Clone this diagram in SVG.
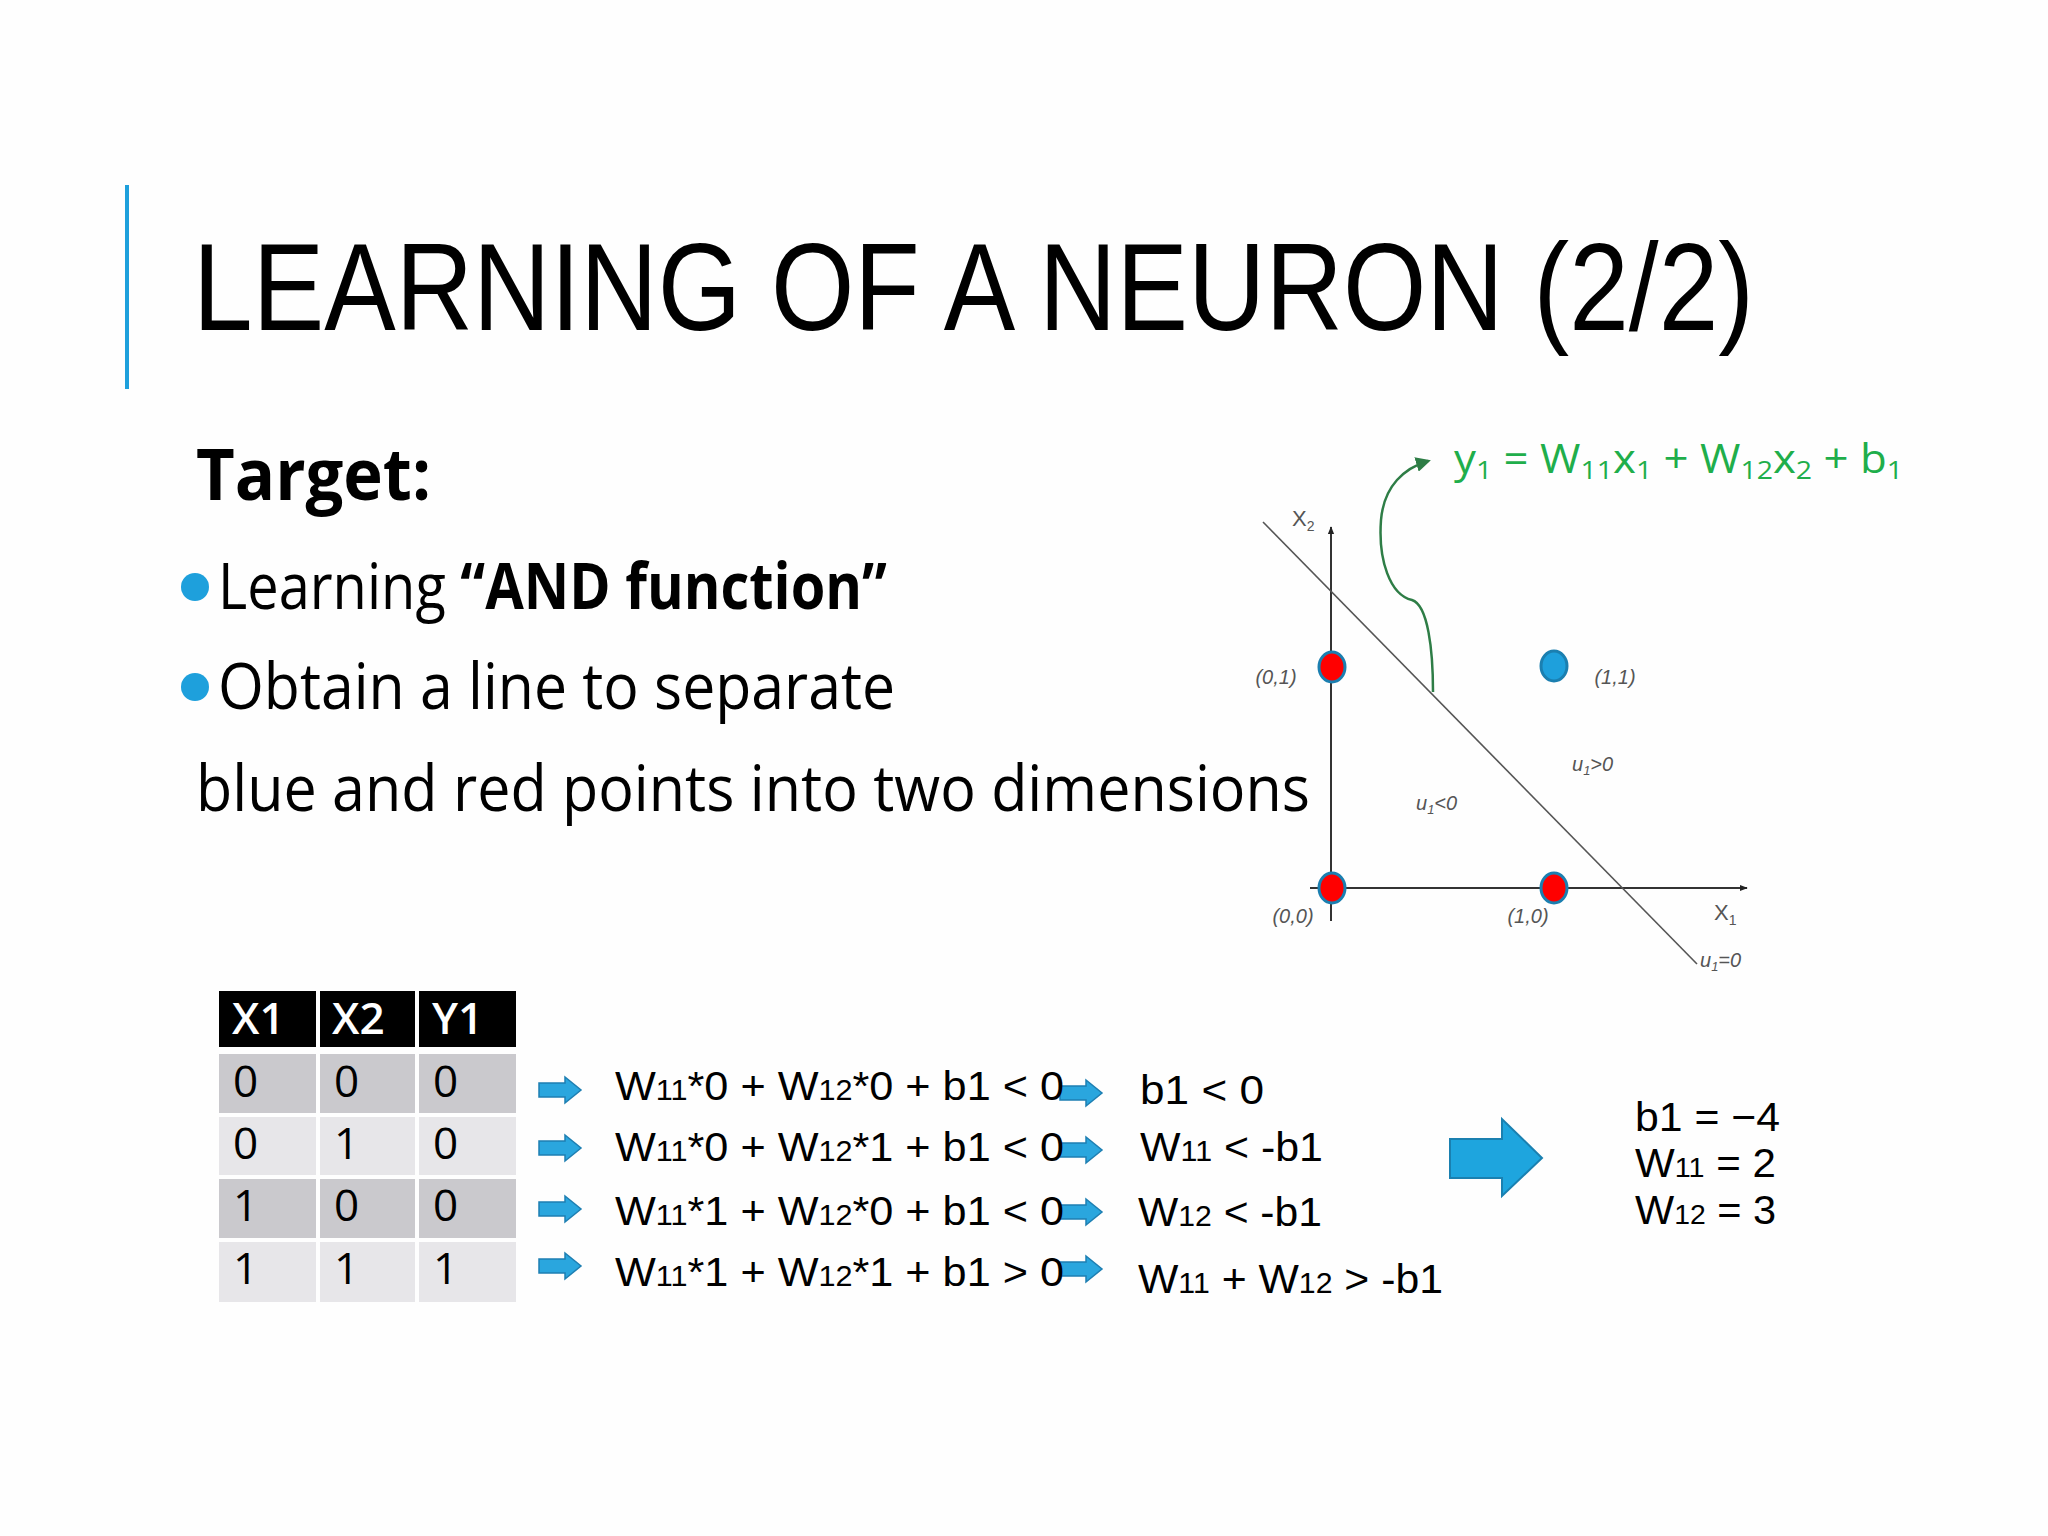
<svg xmlns="http://www.w3.org/2000/svg" width="2048" height="1536" viewBox="0 0 2048 1536">
<style>
.body{font-family:"Open Sans","Noto Sans","DejaVu Sans",sans-serif;fill:#000}
.lbl{font-family:"Liberation Sans",Arial,sans-serif;font-style:italic;font-size:20px;fill:#555}
.ax{font-family:"Liberation Sans",Arial,sans-serif;font-size:22px;fill:#555}
.eq{font-family:"Liberation Sans",Arial,sans-serif;font-size:41px;fill:#000}
.hd{font-family:"Open Sans","Noto Sans",sans-serif;font-size:44px;font-weight:600;fill:#fff}
.cell{font-family:"Open Sans","Noto Sans",sans-serif;font-size:44px;fill:#000}
.dark{fill:#cac9cd}
.light{fill:#e7e6e9}
.sa{fill:#2aa6de;stroke:#1e7fb2;stroke-width:1.5}
.red{fill:#f00;stroke:#1b7fb0;stroke-width:3}
.blue{fill:#1ea0dc;stroke:#1b7fb0;stroke-width:3}
</style>
<defs>
<path id="sa" d="M0,-7 H26 V-13 L42,0 L26,13 V7 H0 Z"/>
<marker id="ga" viewBox="0 0 10 10" refX="8" refY="5" markerWidth="6" markerHeight="6" orient="auto"><path d="M0,0 L10,5 L0,10 Z" fill="#2e7d46"/></marker>
<marker id="ka" viewBox="0 0 10 10" refX="9" refY="5" markerWidth="8" markerHeight="8" markerUnits="userSpaceOnUse" orient="auto"><path d="M0,1 L10,5 L0,9 Z" fill="#222"/></marker>
</defs>
<rect width="2048" height="1536" fill="#fefefe"/>

<g id="title">
<rect x="125" y="185" width="4" height="204" fill="#1ea0dc"/>
<text x="193" y="330" font-family="'Liberation Sans',Arial,sans-serif" font-size="124" textLength="1561" lengthAdjust="spacingAndGlyphs">LEARNING OF A NEURON (2/2)</text>
</g>

<g id="text-block">
<text class="body" x="196" y="500" font-size="72" font-weight="700" textLength="235" lengthAdjust="spacingAndGlyphs">Target:</text>
<circle cx="195" cy="587" r="14" fill="#1ea0dc"/>
<text class="body" x="218" y="609" font-size="64" textLength="669" lengthAdjust="spacingAndGlyphs">Learning <tspan font-weight="700">“AND function”</tspan></text>
<circle cx="195" cy="687" r="14" fill="#1ea0dc"/>
<text class="body" x="218" y="709" font-size="64" textLength="677" lengthAdjust="spacingAndGlyphs">Obtain a line to separate</text>
<text class="body" x="196" y="811" font-size="64" textLength="1114" lengthAdjust="spacingAndGlyphs">blue and red points into two dimensions</text>
</g>

<g id="graph">
<line x1="1331" y1="921" x2="1331" y2="527" stroke="#333" stroke-width="2" marker-end="url(#ka)"/>
<line x1="1310" y1="888" x2="1747" y2="888" stroke="#333" stroke-width="2" marker-end="url(#ka)"/>
<line x1="1263" y1="522" x2="1697" y2="964" stroke="#555" stroke-width="1.6"/>
<text class="ax" x="1292" y="526">X<tspan font-size="14" dy="5">2</tspan></text>
<text class="ax" x="1714" y="920">X<tspan font-size="14" dy="5">1</tspan></text>
<ellipse class="red" cx="1332" cy="667" rx="13" ry="15"/>
<ellipse class="blue" cx="1554" cy="666" rx="13" ry="15"/>
<ellipse class="red" cx="1332" cy="888" rx="13" ry="15"/>
<ellipse class="red" cx="1554" cy="888" rx="13" ry="15"/>
<text class="lbl" x="1276" y="684" text-anchor="middle">(0,1)</text>
<text class="lbl" x="1615" y="684" text-anchor="middle">(1,1)</text>
<text class="lbl" x="1293" y="923" text-anchor="middle">(0,0)</text>
<text class="lbl" x="1528" y="923" text-anchor="middle">(1,0)</text>
<text class="lbl" x="1572" y="771">u<tspan font-size="13" dy="4">1</tspan><tspan dy="-4">&gt;0</tspan></text>
<text class="lbl" x="1416" y="810">u<tspan font-size="13" dy="4">1</tspan><tspan dy="-4">&lt;0</tspan></text>
<text class="lbl" x="1700" y="967">u<tspan font-size="13" dy="4">1</tspan><tspan dy="-4">=0</tspan></text>
</g>

<g id="formula">
<path d="M1433,692 C1433,650 1428,605 1412,600 C1390,595 1378,560 1381,520 C1384,485 1405,468 1428,461" fill="none" stroke="#2e7d46" stroke-width="2.5" marker-end="url(#ga)"/>
<text x="1454" y="473" font-family="'Open Sans','Noto Sans',sans-serif" font-size="40" fill="#1fae4b" textLength="449" lengthAdjust="spacingAndGlyphs">y<tspan font-size="26" dy="6">1</tspan><tspan dy="-6"> = W</tspan><tspan font-size="26" dy="6">11</tspan><tspan dy="-6">x</tspan><tspan font-size="26" dy="6">1</tspan><tspan dy="-6"> + W</tspan><tspan font-size="26" dy="6">12</tspan><tspan dy="-6">x</tspan><tspan font-size="26" dy="6">2</tspan><tspan dy="-6"> + b</tspan><tspan font-size="26" dy="6">1</tspan></text>
</g>

<g id="table">
<rect x="219" y="991" width="97" height="56" fill="#000"/>
<rect x="320" y="991" width="95" height="56" fill="#000"/>
<rect x="419" y="991" width="97" height="56" fill="#000"/>
<text class="hd" x="232" y="1034">X1</text>
<text class="hd" x="332" y="1034">X2</text>
<text class="hd" x="432" y="1034">Y1</text>
<rect class="dark" x="219" y="1054" width="97" height="59"/>
<rect class="dark" x="320" y="1054" width="95" height="59"/>
<rect class="dark" x="419" y="1054" width="97" height="59"/>
<rect class="light" x="219" y="1117" width="97" height="58"/>
<rect class="light" x="320" y="1117" width="95" height="58"/>
<rect class="light" x="419" y="1117" width="97" height="58"/>
<rect class="dark" x="219" y="1179" width="97" height="59"/>
<rect class="dark" x="320" y="1179" width="95" height="59"/>
<rect class="dark" x="419" y="1179" width="97" height="59"/>
<rect class="light" x="219" y="1242" width="97" height="60"/>
<rect class="light" x="320" y="1242" width="95" height="60"/>
<rect class="light" x="419" y="1242" width="97" height="60"/>
<text class="cell" x="233" y="1097">0</text><text class="cell" x="334" y="1097">0</text><text class="cell" x="433" y="1097">0</text>
<text class="cell" x="233" y="1159">0</text><text class="cell" x="334" y="1159">1</text><text class="cell" x="433" y="1159">0</text>
<text class="cell" x="233" y="1221">1</text><text class="cell" x="334" y="1221">0</text><text class="cell" x="433" y="1221">0</text>
<text class="cell" x="233" y="1284">1</text><text class="cell" x="334" y="1284">1</text><text class="cell" x="433" y="1284">1</text>
</g>

<g id="connectors">
<use href="#sa" class="sa" x="539" y="1090"/>
<use href="#sa" class="sa" x="539" y="1148"/>
<use href="#sa" class="sa" x="539" y="1209"/>
<use href="#sa" class="sa" x="539" y="1266"/>
<use href="#sa" class="sa" x="1060" y="1093"/>
<use href="#sa" class="sa" x="1060" y="1150"/>
<use href="#sa" class="sa" x="1060" y="1212"/>
<use href="#sa" class="sa" x="1060" y="1269"/>
<path d="M1450,1139 H1502 V1119 L1542,1158 L1502,1196 V1178 H1450 Z" fill="#1ea5de" stroke="#1a80b0" stroke-width="2"/>
</g>

<g id="equations">
<text class="eq" x="615" y="1100" textLength="449" lengthAdjust="spacingAndGlyphs">W<tspan font-size="29">11</tspan>*0 + W<tspan font-size="29">12</tspan>*0 + b1 &lt; 0</text>
<text class="eq" x="615" y="1161" textLength="449" lengthAdjust="spacingAndGlyphs">W<tspan font-size="29">11</tspan>*0 + W<tspan font-size="29">12</tspan>*1 + b1 &lt; 0</text>
<text class="eq" x="615" y="1225" textLength="449" lengthAdjust="spacingAndGlyphs">W<tspan font-size="29">11</tspan>*1 + W<tspan font-size="29">12</tspan>*0 + b1 &lt; 0</text>
<text class="eq" x="615" y="1286" textLength="449" lengthAdjust="spacingAndGlyphs">W<tspan font-size="29">11</tspan>*1 + W<tspan font-size="29">12</tspan>*1 + b1 &gt; 0</text>
</g>

<g id="conditions">
<text class="eq" x="1140" y="1104" textLength="124" lengthAdjust="spacingAndGlyphs">b1 &lt; 0</text>
<text class="eq" x="1140" y="1161" textLength="183" lengthAdjust="spacingAndGlyphs">W<tspan font-size="29">11</tspan> &lt; -b1</text>
<text class="eq" x="1138" y="1226" textLength="184" lengthAdjust="spacingAndGlyphs">W<tspan font-size="29">12</tspan> &lt; -b1</text>
<text class="eq" x="1138" y="1293" textLength="305" lengthAdjust="spacingAndGlyphs">W<tspan font-size="29">11</tspan> + W<tspan font-size="29">12</tspan> &gt; -b1</text>
</g>

<g id="result">
<text class="eq" x="1635" y="1131" font-size="39" textLength="145" lengthAdjust="spacingAndGlyphs">b1 = −4</text>
<text class="eq" x="1635" y="1177" font-size="39" textLength="141" lengthAdjust="spacingAndGlyphs">W<tspan font-size="28">11</tspan> = 2</text>
<text class="eq" x="1635" y="1224" font-size="39" textLength="141" lengthAdjust="spacingAndGlyphs">W<tspan font-size="28">12</tspan> = 3</text>
</g>
</svg>
